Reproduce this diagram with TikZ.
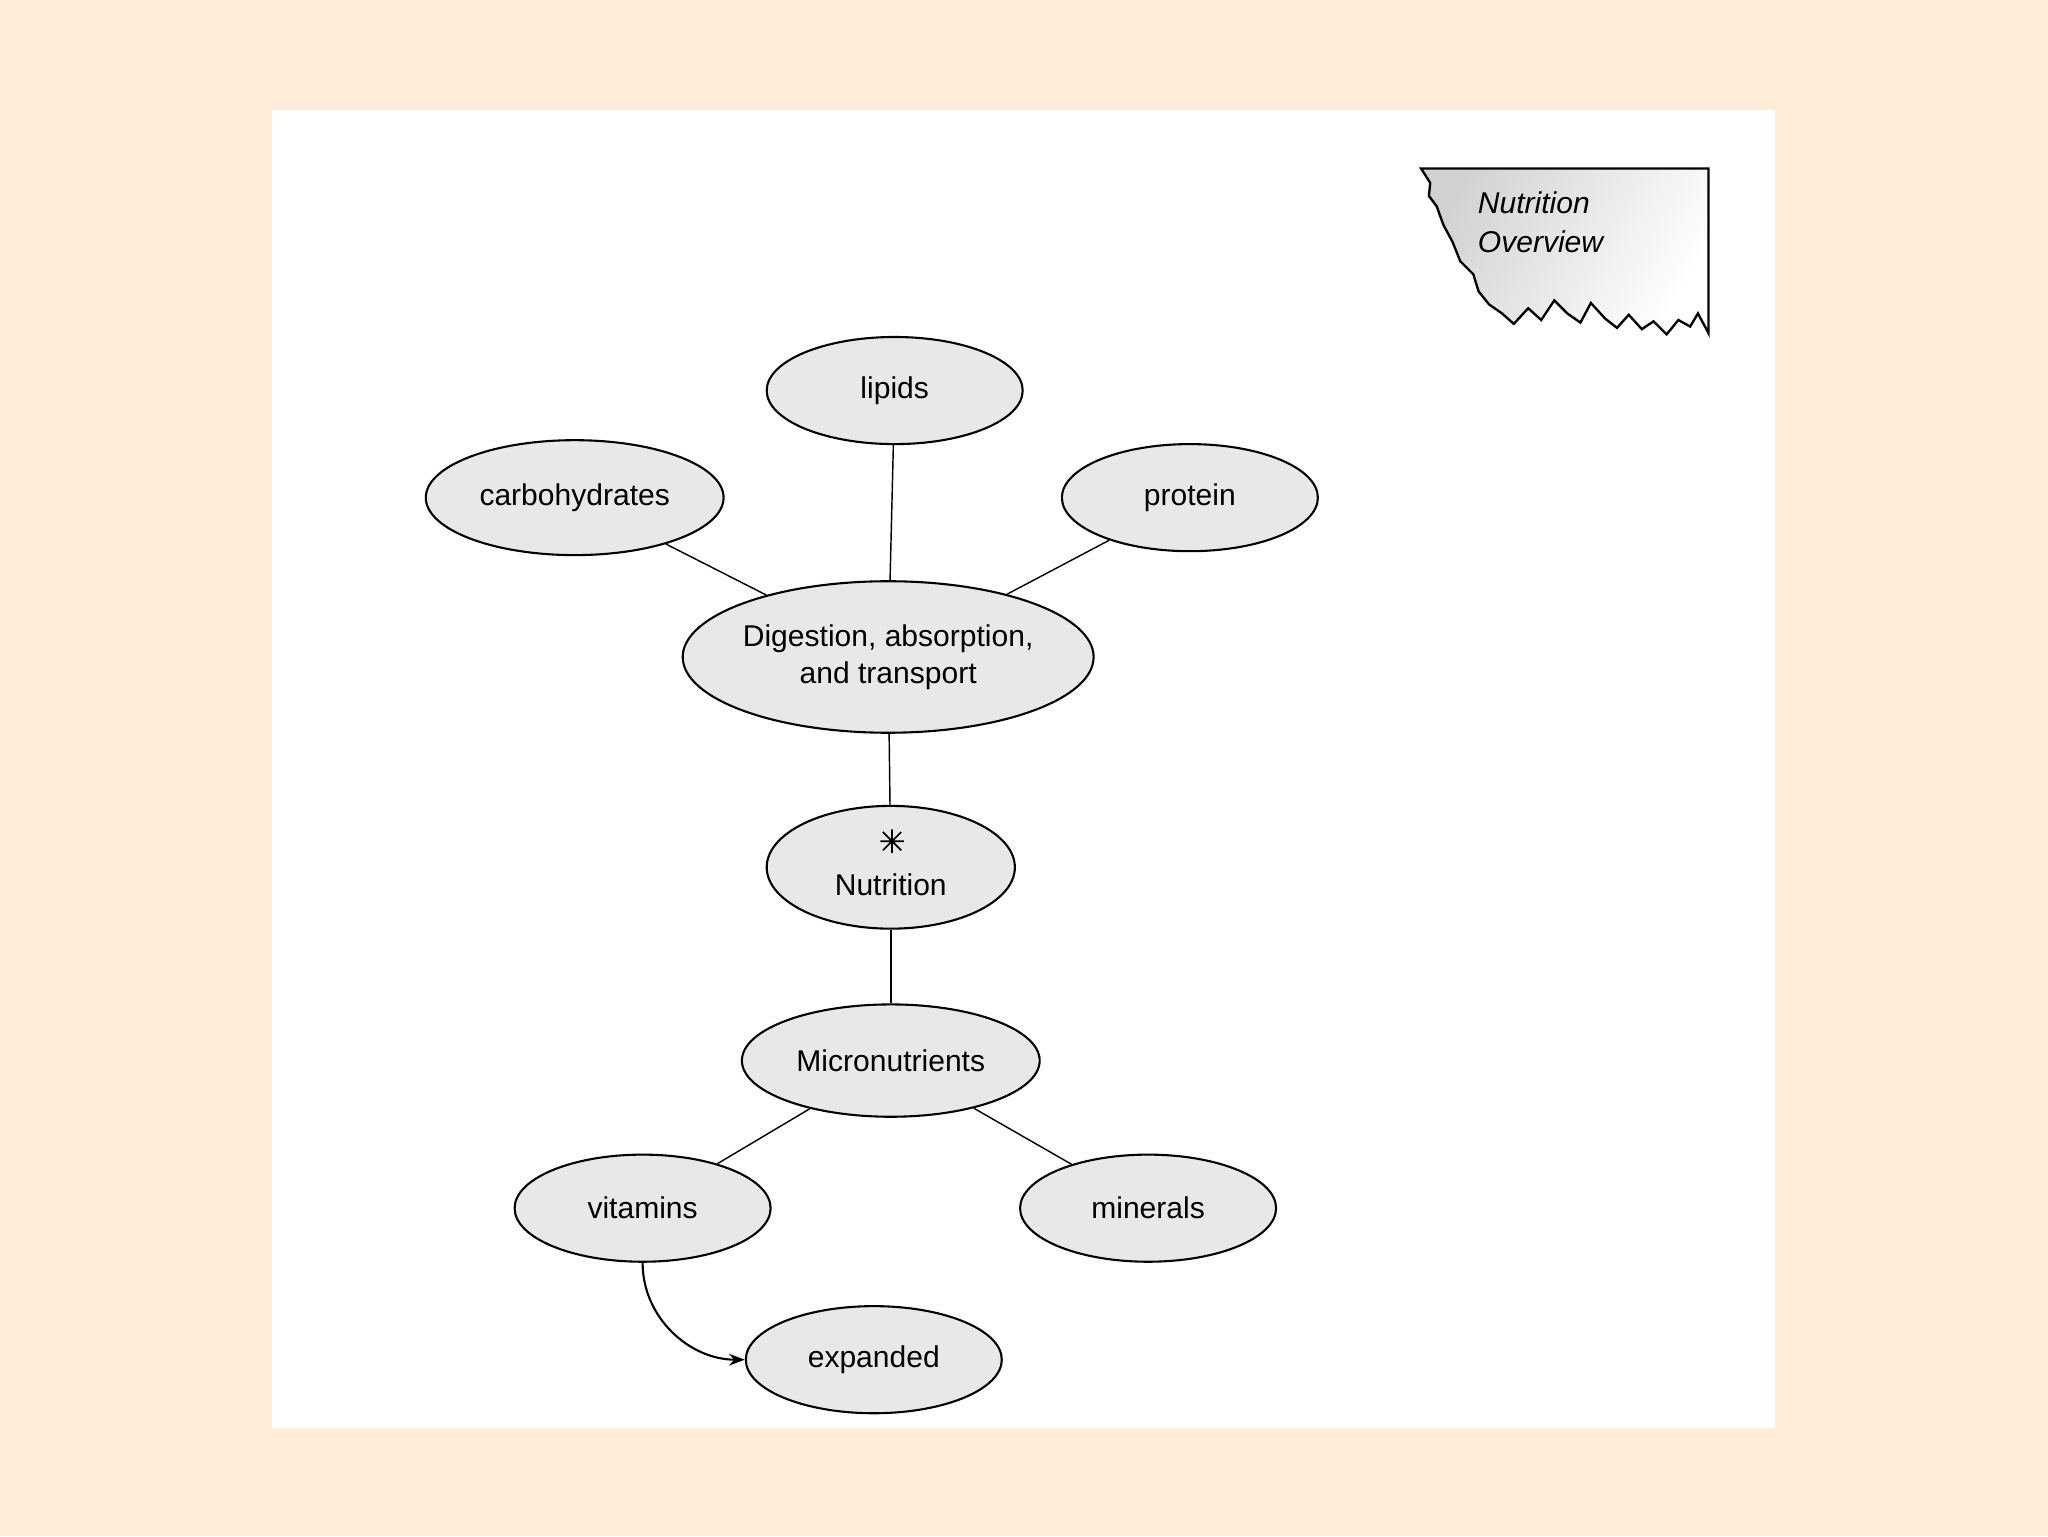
\documentclass[tikz,border=0pt]{standalone}
\usepackage{fontspec}
\setmainfont{Liberation Sans}
\usetikzlibrary{shapes.geometric,arrows.meta,calc}
\begin{document}
\begin{tikzpicture}[x=1pt,y=-1pt,
  el/.style={ellipse,draw,line width=1.6pt,fill=gray!18,inner sep=0pt,font=\fontsize{23}{28}\selectfont,align=center},
  ln/.style={line width=1.1pt}]
\fill[orange!15!white] (0,0) rectangle (1568,1176);
\useasboundingbox (0,0) rectangle (1568,1176);
\fill[white] (208,84) rectangle (1359,1093);
\node[el,minimum width=196,minimum height=82] (lip) at (685,299) {lipids};
\node[el,minimum width=228,minimum height=88] (carb) at (440,381) {carbohydrates};
\node[el,minimum width=196,minimum height=82] (prot) at (911,381) {protein};
\node[el,minimum width=302,minimum height=116] (dig) at (680,503) {Digestion, absorption,\\and transport};
\node[el,minimum width=190,minimum height=94] (nut) at (682,664) {};
\node[font=\fontsize{23}{28}\selectfont] (nutt) at (682,677) {Nutrition};
\coordinate (st) at (683,644);
\draw[line width=1.3pt] ($(st)+(-9,0)$) -- ($(st)+(9,0)$) ($(st)+(0,-9)$) -- ($(st)+(0,9)$)
  ($(st)+(-7,-7)$) -- ($(st)+(7,7)$) ($(st)+(-7,7)$) -- ($(st)+(7,-7)$);
\node[el,minimum width=228,minimum height=86] (mic) at (682,812) {Micronutrients};
\node[el,minimum width=196,minimum height=82] (vit) at (492,925) {vitamins};
\node[el,minimum width=196,minimum height=82] (min) at (879,925) {minerals};
\node[el,minimum width=196,minimum height=82] (exp) at (669,1041) {expanded};
\draw[ln] (lip) -- (dig);
\draw[ln] (carb) -- (dig);
\draw[ln] (prot) -- (dig);
\draw[ln] (dig) -- (nut);
\draw[ln] (nut) -- (mic);
\draw[ln] (mic) -- (vit);
\draw[ln] (mic) -- (min);
\draw[line width=1.6pt,-{Stealth[length=12pt,width=9pt]}] (vit.south) to[out=-90,in=180] (exp.west);
\shade[left color=gray!35,right color=white,shading angle=60,draw=black,line width=1.8pt]
 (1088,129) -- (1308,129) -- (1308,255) -- (1300,240) -- (1294,250) -- (1285,245) -- (1276,256) -- (1266,246)
 -- (1257,252) -- (1247,241) -- (1238,251) -- (1229,244) -- (1218,232) -- (1210,247) -- (1200,240)
 -- (1190,230) -- (1180,245) -- (1170,236) -- (1159,248) -- (1150,240) -- (1140,233) -- (1132,223)
 -- (1128,210) -- (1118,200) -- (1112,185) -- (1105,172) -- (1100,158) -- (1094,150) -- (1095,140) -- cycle;
\node[font=\itshape\fontsize{23}{30}\selectfont,align=left,anchor=north west] (tag) at (1128,143) {Nutrition\\Overview};
\end{tikzpicture}
\end{document}
